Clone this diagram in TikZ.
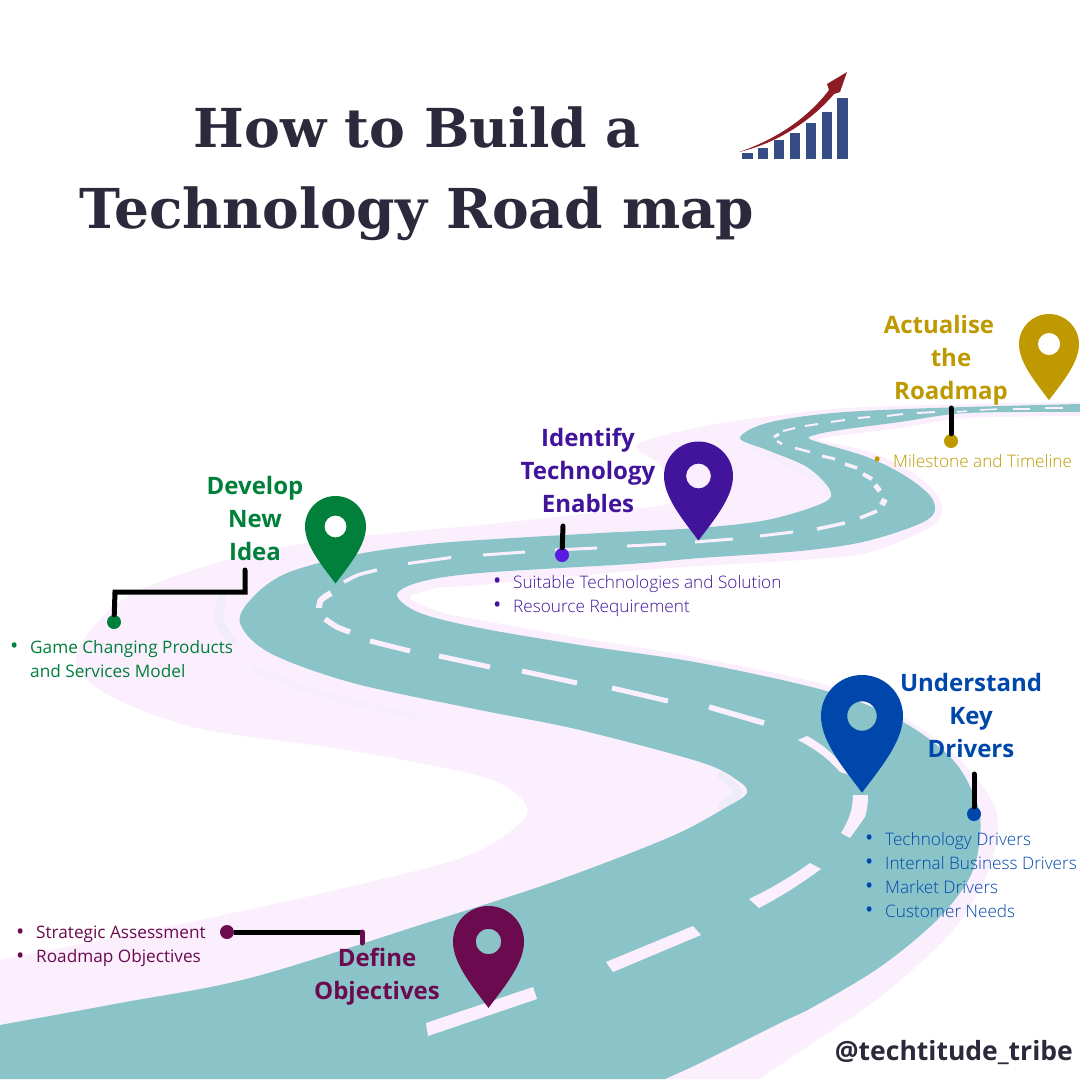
\documentclass[tikz,border=0pt]{standalone}
\usepackage{fontspec}
\setmainfont{Open Sans}
\newfontfamily\lightf{Open Sans Light}
\newfontfamily\titlef{DejaVu Serif}
\definecolor{road}{HTML}{8AC4C9}
\definecolor{halo}{HTML}{FBEFFD}
\definecolor{halodark}{HTML}{F6EFFB}
\definecolor{cgold}{HTML}{BF9900}
\definecolor{cpurple}{HTML}{42149B}
\definecolor{cviolet}{HTML}{5A1BE0}
\definecolor{cgreen}{HTML}{00803A}
\definecolor{cblue}{HTML}{0047AB}
\definecolor{cmaroon}{HTML}{6B0A4F}
\definecolor{cink}{HTML}{2B2A3D}
\definecolor{barblue}{HTML}{354C85}
\definecolor{arrowred}{HTML}{8F1C25}
\tikzset{
  heading/.style={font=\fontsize{24}{33}\selectfont\bfseries,align=center,inner sep=0pt},
  titletext/.style={font=\fontsize{55}{60}\selectfont\titlef\bfseries,text=cink,inner sep=0pt,anchor=base},
  listtext/.style={font=\fontsize{17.2}{24}\selectfont\lightf,align=left,anchor=north west,inner sep=0pt},
  listregular/.style={listtext,font=\fontsize{17.2}{24}\selectfont},
  enddot/.style={circle,minimum size=14pt,inner sep=0pt},
  conn/.style={line width=5pt,draw=black,line cap=round,line join=miter},
  softband/.style={line width=7pt,draw=halodark,line cap=round},
  bar/.style={fill=barblue}
}
\newcommand{\mappin}[5]{%
  \begin{scope}[shift={(#1,#2)},scale=#3]
    \fill[#4,even odd rule] (0,1.87) .. controls (-0.45,1.27) and (-1,0.62) .. (-1,0)
      .. controls (-1,-0.5523) and (-0.5523,-1) .. (0,-1)
      .. controls (0.5523,-1) and (1,-0.5523) .. (1,0)
      .. controls (1,0.62) and (0.45,1.27) .. (0,1.87) -- cycle
      (0,0) circle[radius=#5];
  \end{scope}}
\newcommand{\bl}[1]{\makebox[20pt][l]{{\normalfont\fontsize{22}{24}\selectfont\raisebox{-0.5pt}{•}}}#1}
\begin{document}
\begin{tikzpicture}[x=1pt,y=-1pt]
\useasboundingbox (0,0) rectangle (1080,1080);
\fill[white] (0,0) rectangle (1080,1080);
% halo
\fill[halo] plot[smooth,tension=0.55] coordinates {(0,960) (214,917) (357,885) (464,857) (512,830) (527,807) (493,780) (404,760) (327,747) (193,727) (100,690) (77,653) (127,597) (227,560) (327,540) (480,525) (600,512) (680,500) (660,465) (637,445) (700,427) (780,415) (867,407) (1080,402)}
 -- plot[smooth,tension=0.55] coordinates {(1080,416) (967,418) (900,428) (830,437) (822,441) (870,452) (912,472) (940,500) (933,525) (870,552) (800,560) (700,566) (630,571) (480,585) (437,588) (410,598) (440,612) (480,620) (580,638) (700,658) (830,686) (903,717) (960,760) (993,803) (997,837) (983,883) (947,937) (880,997) (813,1043) (780,1065) (760,1079)}
 -- (0,1079) -- cycle;
% soft shading beside the bends
\draw[softband] plot[smooth] coordinates {(253,668) (300,687) (353,702) (420,717)};
\draw[softband,line width=8pt,draw=halodark!94!road] plot[smooth] coordinates {(222,598) (219,620) (232,642)};
\draw[softband,line width=8pt,draw=halodark!92!road] plot[smooth] coordinates {(722,776) (738,792) (722,806)};
\draw[softband,line width=6pt] plot[smooth] coordinates {(752,448) (790,465) (828,488) (826,508)};
% road
\fill[road] plot[smooth,tension=0.55] coordinates {(0,1025) (120,1003) (250,978) (420,925) (553,882) (670,837) (725,808) (747,793) (737,780) (700,762) (580,730) (480,710) (353,683) (270,653) (240,623) (253,597) (287,573) (353,555) (420,545) (480,540) (600,533) (697,528) (767,520) (823,503) (830,490) (807,467) (767,450) (740,438) (767,423) (833,413) (933,408) (1080,404)}
 -- plot[smooth,tension=0.55] coordinates {(1080,412) (967,413) (900,422) (840,430) (815,435) (812,440) (867,457) (907,477) (933,500) (927,520) (867,541) (800,551) (700,558) (630,564) (480,573) (420,582) (397,595) (420,613) (480,628) (580,645) (700,663) (830,692) (903,722) (953,760) (977,803) (980,837) (970,877) (937,920) (880,967) (813,1007) (780,1023) (700,1063) (665,1079)}
 -- (0,1079) -- cycle;
% centre line
\foreach \xa/\ya/\xb/\yb/\w in {
 709/707/764/723/5.5, 612/688/668/701/5, 522/671/577/683/5, 439/656/490/667/5, 370/641/410/651/5,
 408/563.5/451/557.5/3, 483/555/525/552/3, 555/550/597/548/3, 627/546/666/544/3, 695/542/733/539/3,
 760/536/793/532/3, 817/529/845/523/3.5, 860/518/877/511/3.5, 882/505/885/499/6, 880/491/875/485/5,
 872/479/863/474/4, 857/468/845/464/3.5, 835/459/822/456/3, 810/452/795/448/2.5, 782/444/777/441/2.5,
 774/437/779/434/3, 783/431/795/428/2, 805/426/818/424/2, 831/422/845/420/2, 858/418/870/417/2,
 887/416/903/414/2, 917/413/935/412/2, 957/412/967/411/1.5, 980/410/997/409/1.5, 1013/409/1030/409/1.5, 1045/408/1063/408/1.5}
 {\draw[halo,line width=\w pt] (\xa,\ya) -- (\xb,\yb);}
\draw[halo,line width=5.5pt] plot[smooth] coordinates {(325,619) (337,627) (350,632)};
\draw[halo,line width=6pt] plot[smooth] coordinates {(319,608) (321,600) (331,593)};
\draw[halo,line width=3.5pt] plot[smooth] coordinates {(344,582) (358,575) (377,570)};
\fill[halo] (426,1023) -- (533,987) -- (537,999) -- (428,1036) -- cycle;
\fill[halo] (606,962) -- (693,926) -- (701,935) -- (613,972) -- cycle;
\fill[halo] (749,899) .. controls (772,888) and (792,876) .. (810,863) -- (821,869) .. controls (802,883) and (782,896) .. (759,908) -- cycle;
\fill[halo] (853,795) -- (868,795) .. controls (868,805) and (866,815) .. (865,817) -- (850,838) -- (841,833) .. controls (848,822) and (853,810) .. (853,795) -- cycle;
\fill[halo] (798,740) -- (807,736) .. controls (822,744) and (836,755) .. (850,775) -- (840,772) .. controls (828,758) and (815,749) .. (798,740) -- cycle;
% chart icon
\fill[bar] (742,153) rectangle (753,159);
\fill[bar] (758,148) rectangle (768,159);
\fill[bar] (774,140) rectangle (784,159);
\fill[bar] (790,133) rectangle (800,159);
\fill[bar] (806,123) rectangle (816,159);
\fill[bar] (822,112) rectangle (832,159);
\fill[bar] (837,98) rectangle (848,159);
\fill[arrowred] (739,152) .. controls (775,140) and (808,118) .. (829,90) -- (827,84) -- (847,72) -- (840,92) -- (834,94) .. controls (812,120) and (778,143) .. (739,152) -- cycle;
% end dots
\node[enddot,fill=cgold] (dotA) at (951,441) {};
\node[enddot,fill=cviolet] (dotB) at (562,555) {};
\node[enddot,fill=cgreen] (dotC) at (114,622) {};
\node[enddot,fill=cblue] (dotD) at (974,814) {};
\node[enddot,fill=cmaroon] (dotE) at (227,932) {};
\coordinate (startA) at (951,408);
\coordinate (startB) at (563,526);
\coordinate (startC) at (245,570);
\coordinate (bendC1) at (245,592);
\coordinate (bendC2) at (115,592);
\coordinate (startD) at (974,774);
\coordinate (startE) at (362,932);
\coordinate (stubE) at (362,943);
\draw[conn] (startA) -- (dotA);
\draw[conn] (startB) -- (dotB);
\draw[conn] (startC) -- (bendC1) -- (bendC2) -- (dotC);
\draw[conn] (startD) -- (dotD);
\draw[conn,line cap=butt] (dotE) -- (startE);
\draw[conn,draw=cmaroon] (startE) -- (stubE);
% pins
\mappin{1049}{344}{30}{cgold}{0.37}
\mappin{698.5}{476}{34.5}{cpurple}{0.36}
\mappin{335.5}{526.5}{30.5}{cgreen}{0.36}
\mappin{862}{716}{41}{cblue}{0.36}
\mappin{488.5}{941.5}{35.5}{cmaroon}{0.36}
% title
\node[titletext,font=\fontsize{53.7}{60}\selectfont\titlef\bfseries] (titleA) at (417,147) {How to Build a};
\node[titletext] (titleB) at (417,228) {Technology Road map};
% headings
\node[heading,text=cgold] (headA) at (951,360) {Actualise\hspace*{24pt}\\the\\Roadmap};
\node[heading,text=cpurple] (headB) at (588,470) {Identify\\Technology\\Enables};
\node[heading,text=cgreen] (headC) at (255,518) {Develop\\New\hspace*{3pt}\\Idea};
\node[heading,text=cblue] (headD) at (971,715) {Understand\\Key\hspace*{6pt}\\Drivers};
\node[heading,text=cmaroon] (headE) at (377,977) {Define\\Objectives};
% lists
\node[listtext,text=cgold] (listA) at (873,454) {\bl{Milestone and Timeline}};
\node[listtext,text=cpurple] (listB) at (493,575) {\bl{Suitable Technologies and Solution}\\\bl{Resource Requirement}};
\node[listregular,text=cgreen] (listC) at (10,640) {\bl{Game Changing Products}\\\hspace*{20pt}and Services Model};
\node[listtext,text=cblue] (listD) at (865,832) {\bl{Technology Drivers}\\\bl{Internal Business Drivers}\\\bl{Market Drivers}\\\bl{Customer Needs}};
\node[listregular,text=cmaroon] (listE) at (16,926) {\bl{Strategic Assessment}\\\bl{Roadmap Objectives}};
\node[font=\fontsize{26.5}{30}\selectfont\bfseries,text=cink,inner sep=0pt,anchor=east] (handle) at (1073,1053) {@techtitude\_tribe};
\end{tikzpicture}
\end{document}
